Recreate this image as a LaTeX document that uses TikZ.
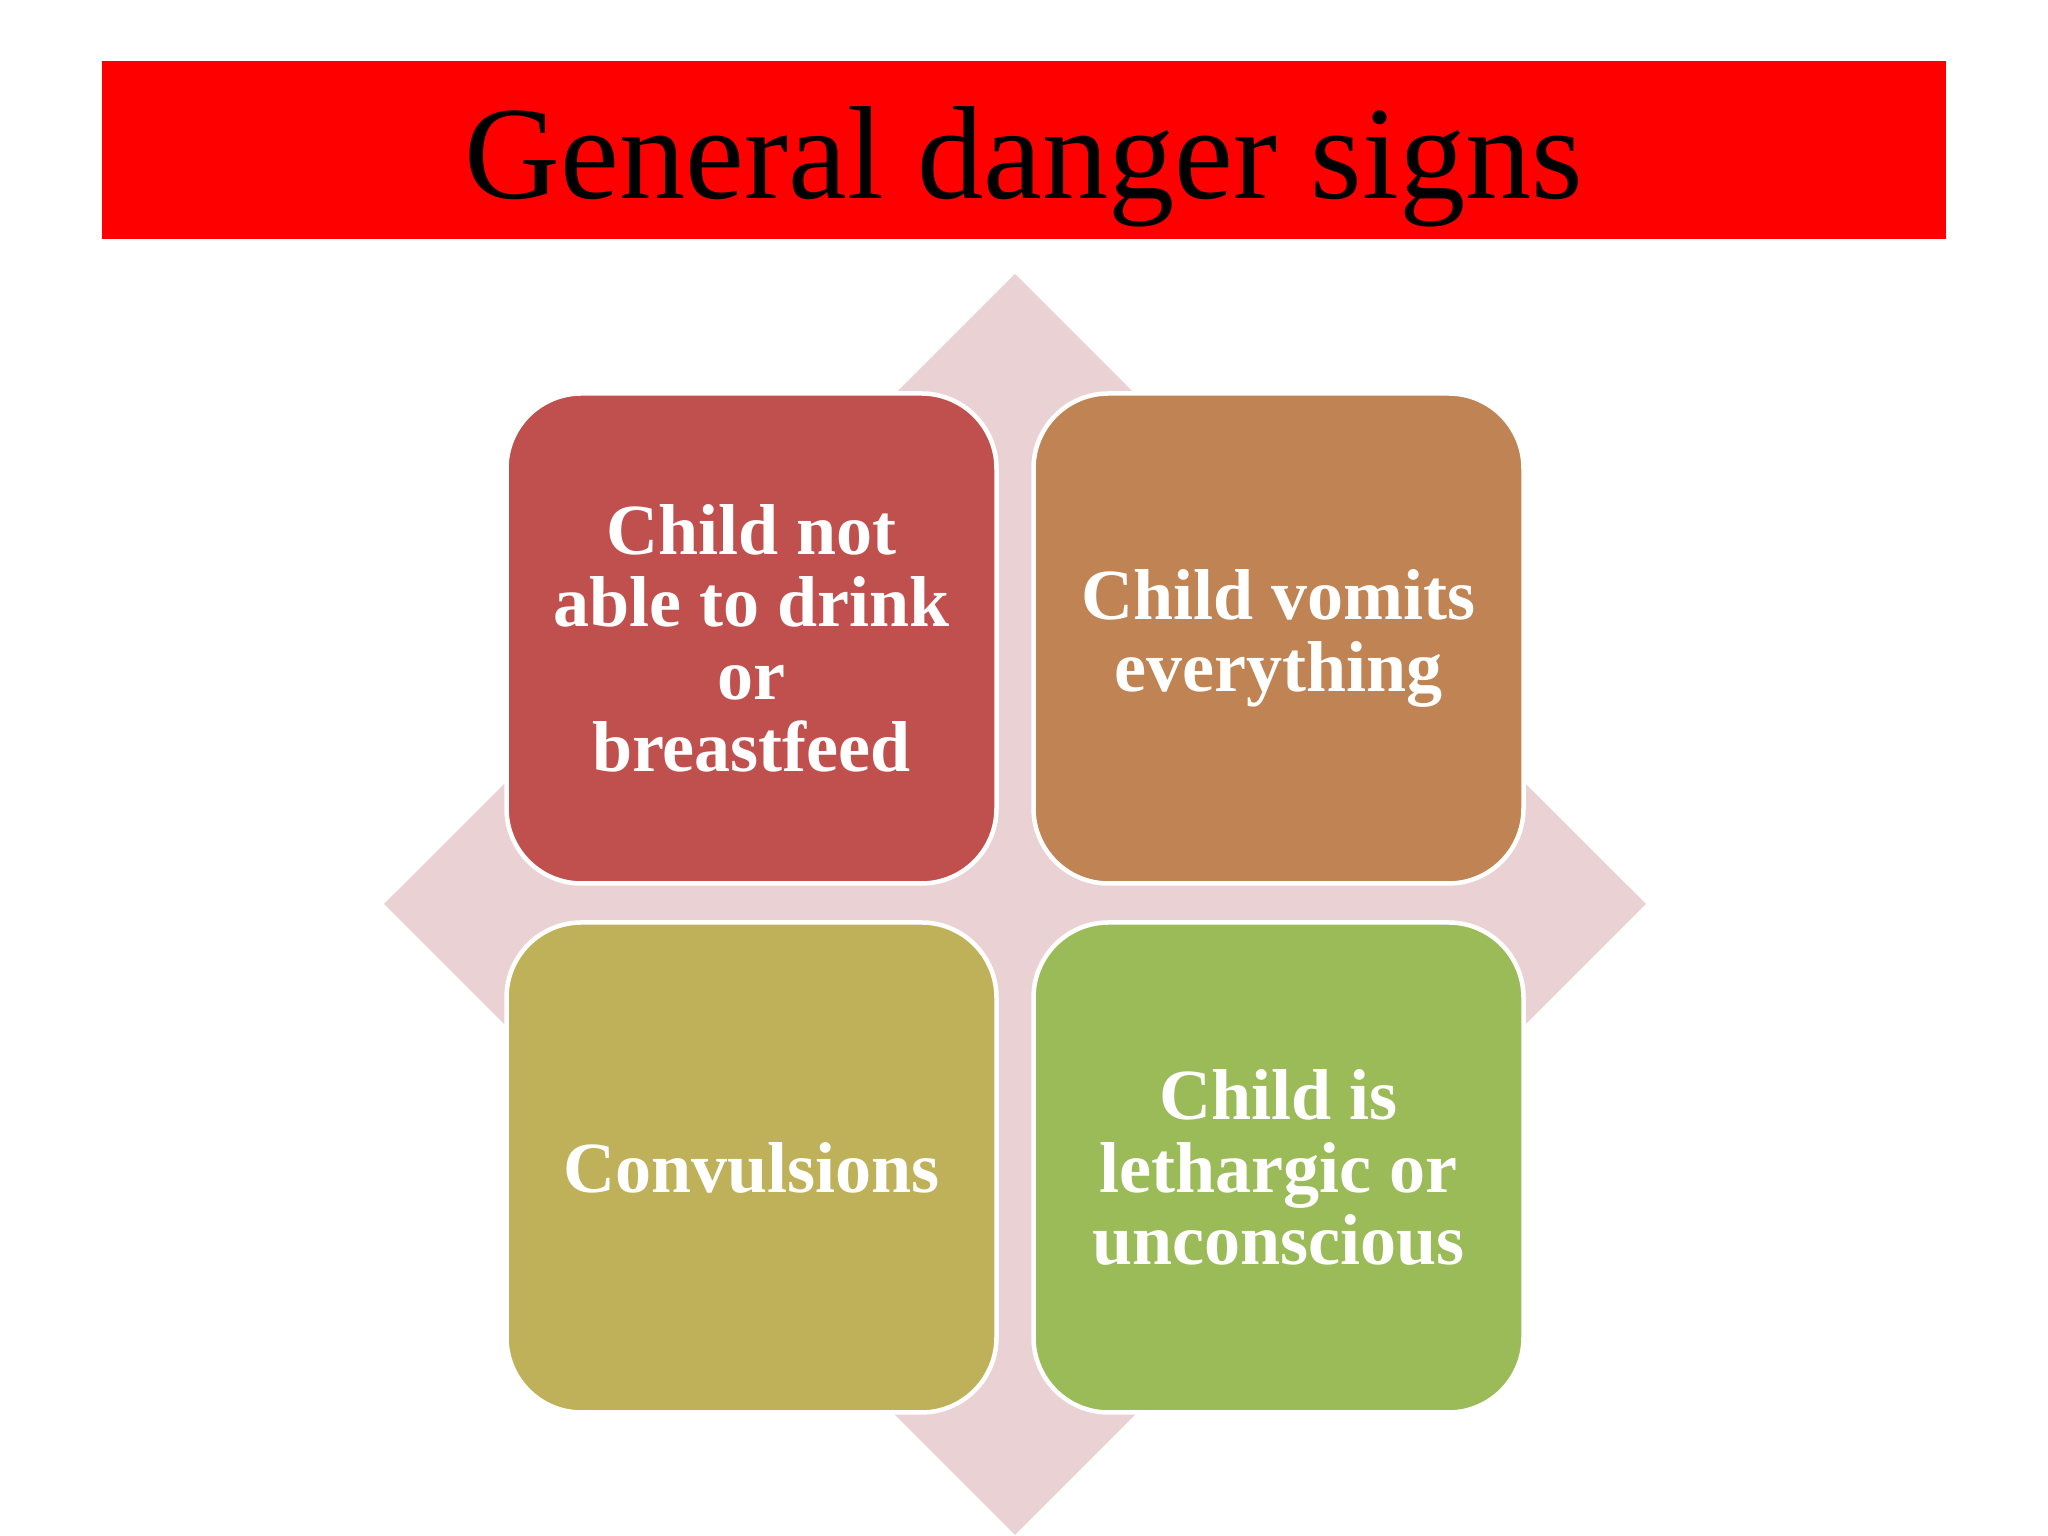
\documentclass[tikz,border=0pt]{standalone}
\usepackage{fontspec}
\setmainfont{Liberation Serif}
\definecolor{bannerred}{RGB}{255,0,0}
\definecolor{backdrop}{RGB}{234,209,212}
\definecolor{signred}{RGB}{192,80,77}
\definecolor{signorange}{RGB}{192,131,83}
\definecolor{signolive}{RGB}{191,177,89}
\definecolor{signgreen}{RGB}{155,187,89}
\newcommand{\signsize}{4.9cm}
\tikzstyle{sign}=[draw=white, line width=0.045cm, rounded corners=0.75cm, minimum size=\signsize,
                  inner sep=0, align=center, text=white, font=\fontsize{20.5}{20.6}\selectfont\bfseries]
\tikzstyle{title}=[inner sep=0, font=\fontsize{37.7}{42}\selectfont]

\begin{document}
\begin{tikzpicture}
        \useasboundingbox[fill=white] (0, 0) rectangle (20.48, 15.36);
        % banner
        \fill[bannerred] (1.02, 12.97) rectangle (19.46, 14.75);
        \node[title, anchor=base] (heading) at (10.24, 13.375) {General danger signs};
        % backdrop diamond
        \fill[backdrop] (10.15, 12.62) -- (16.46, 6.32) -- (10.15, 0.01) -- (3.84, 6.32) -- cycle;
        % the four signs
        \node[sign, fill=signred] (drink) at (7.515, 8.975) {Child not\\able to drink\\or\\breastfeed};
        \node[sign, fill=signorange] (vomit) at (12.785, 8.975) {Child vomits\\everything};
        \node[sign, fill=signolive] (convulse) at (7.515, 3.685) {Convulsions};
        \node[sign, fill=signgreen] (lethargy) at (12.785, 3.685) {Child is\\lethargic or\\unconscious};
    \end{tikzpicture}
\end{document}
